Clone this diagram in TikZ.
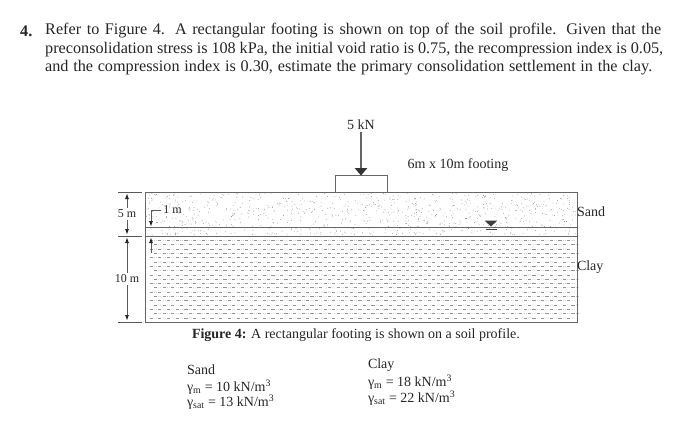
\documentclass[tikz,border=0pt]{standalone}
\usepackage{fontspec}
\setmainfont{Liberation Serif}
\usetikzlibrary{calc, positioning, arrows.meta}
\newcommand{\gamsub}[1]{γ\textsubscript{#1}}
\begin{document}
\begin{tikzpicture}[
    x=1pt, y=-1pt,
    soil/.style={draw=black!60, line width=1pt},
    dimline/.style={draw=black!65, line width=0.8pt},
    dimarrow/.style={dimline, -{Triangle[length=5pt,width=3.5pt,color=black!85]}},
    question/.style={inner sep=0pt, anchor=west, font=\fontsize{16.2}{19}\selectfont, text=black!85},
    label/.style={inner sep=0pt, outer sep=2pt, font=\fontsize{14}{16}\selectfont, text=black!85},
    dimlabel/.style={label, font=\fontsize{12}{14}\selectfont},
    sideinfo/.style={label, anchor=west},
    sandgrain/.style={fill=black!50},
    claydash/.style={draw=black!42, line width=0.8pt},
    claydot/.style={fill=black!30}
]
\useasboundingbox (0,0) rectangle (700,437);
\fill[white] (0,0) rectangle (700,437);
% question
\node[question, font=\fontsize{16.2}{19}\selectfont\bfseries] (num) at (20,31) {4.};
\node[question] (line1) at (45,31) {\makebox[616pt][s]{Refer to Figure 4. A rectangular footing is shown on top of the soil profile. Given that the}};
\node[question] (line2) at (45,49.5) {\makebox[618pt][s]{preconsolidation stress is 108 kPa, the initial void ratio is 0.75, the recompression index is 0.05,}};
\node[question] (line3) at (45,68) {\makebox[607pt][s]{and the compression index is 0.30, estimate the primary consolidation settlement in the clay.}};
% sand grains
\pgfmathsetseed{42}
\foreach \i in {1,...,800}{
    \pgfmathsetmacro{\gx}{146+rnd*430}
    \pgfmathsetmacro{\gy}{193+rnd*42}
    \fill[sandgrain] (\gx,\gy) circle (0.4pt);
}
% clay
\foreach \r in {0,...,18}{
    \pgfmathsetmacro{\ry}{int(mod(\r,2))}
    \foreach \c in {0,...,48}{
        \draw[claydash] ({149.5+\ry*4.35+\c*8.7},{240.5+\r*4.3}) -- ++(3.2,0);
        \fill[claydot] ({154.5+\ry*4.35+\c*8.7},{240.5+\r*4.3}) circle (0.4pt);
        \fill[claydot] ({156.5+\ry*4.35+\c*8.7},{240.5+\r*4.3}) circle (0.4pt);
    }
}
% soil profile
\coordinate (tl) at (145,192);
\coordinate (tr) at (577,192);
\coordinate (bl) at (145,322);
\coordinate (br) at (577,322);
\coordinate (wl) at (145,227);
\coordinate (wr) at (577,227);
\coordinate (cl) at (145,236);
\coordinate (cr) at (577,236);
\draw[soil] (tl) -- (tr) -- (br) -- (bl) -- cycle;
\draw[soil] (wl) -- (wr);
\draw[soil] (cl) -- (cr);
% footing
\coordinate (f1) at (335,192);
\coordinate (f2) at (335,175);
\coordinate (f3) at (387,175);
\coordinate (f4) at (387,192);
\draw[soil] (f1) -- (f2) -- (f3) -- (f4);
\node[label] (load) at (361,125) {5 kN};
\coordinate (loadtip) at (361,175.5);
\draw[draw=black!60, line width=1.1pt, -{Triangle[length=7.5pt,width=12.5pt,color=black!80]}] (load) -- (loadtip);
\node[label] (size) at (458,165) {6m x 10m footing};
% water table
\coordinate (wt) at (491,226.5);
\fill[black!75] (484.5,220.5) -- (497.5,220.5) -- (wt) -- cycle;
\draw[black!75, line width=1pt] (485.5,229) -- (496.5,229);
% dimensions
\coordinate (d1a) at (118,192);
\coordinate (d1b) at (142,192);
\coordinate (d2a) at (118,236);
\coordinate (d2b) at (142,236);
\coordinate (d3a) at (118,322);
\coordinate (d3b) at (142,322);
\draw[dimline] (d1a) -- (d1b);
\draw[dimline, line width=1pt] (d2a) -- (d2b);
\draw[dimline] (d3a) -- (d3b);
\node[dimlabel] (five) at (127,214) {5 m};
\node[dimlabel] (ten) at (127,279) {10 m};
\draw[dimarrow] (five) -- (127,194);
\draw[dimarrow] (five) -- (127,234);
\draw[dimarrow] (ten) -- (127,238);
\draw[dimarrow] (ten) -- (127,320);
% 1 m
\node[dimlabel] (one) at (172.5,210) {1 m};
\coordinate (one1) at (151,210);
\draw[dimline] (one) -- (one1);
\draw[dimarrow] (one1) -- (151,226);
\draw[dimarrow] (151,253) -- (151,238);
% side labels
\node[sideinfo] (sand) at (575,212) {Sand};
\node[sideinfo] (clay) at (575,267) {Clay};
% caption and properties
\node[sideinfo] (caption) at (190,335) {\textbf{Figure 4:} A rectangular footing is shown on a soil profile.};
\node[sideinfo] (s0) at (185,370) {Sand};
\node[sideinfo] (s1) at (185,387) {\gamsub{m} = 10 kN/m\textsuperscript{3}};
\node[sideinfo] (s2) at (185,402) {\gamsub{sat} = 13 kN/m\textsuperscript{3}};
\node[sideinfo] (c0) at (366,365) {Clay};
\node[sideinfo] (c1) at (366,382) {\gamsub{m} = 18 kN/m\textsuperscript{3}};
\node[sideinfo] (c2) at (366,398) {\gamsub{sat} = 22 kN/m\textsuperscript{3}};
\end{tikzpicture}
\end{document}
